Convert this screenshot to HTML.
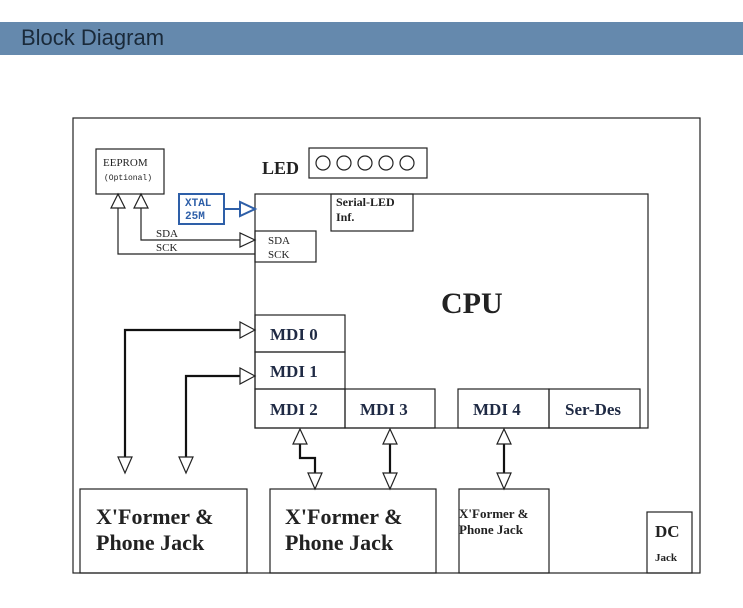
<!DOCTYPE html>
<html><head><meta charset="utf-8"><style>
body{margin:0;background:#fff;width:743px;height:608px;overflow:hidden;}
.hdr{position:absolute;left:0;top:22px;width:743px;height:33px;background:#6589ad;}
.hdr span{position:absolute;left:21px;top:3px;font:300 22px "Liberation Sans",sans-serif;color:#1a2a3a;}
svg{position:absolute;left:0;top:0}
</style></head><body>
<div class="hdr"><span>Block Diagram</span></div>
<svg width="743" height="608" viewBox="0 0 743 608" font-family="Liberation Serif, serif">
<g fill="none" stroke="#222" stroke-width="1.2">
<rect x="73" y="118" width="627" height="455"/>
<rect x="96" y="149" width="68" height="45"/>
<rect x="309" y="148" width="118" height="30"/>
<circle cx="323" cy="163" r="7"/><circle cx="344" cy="163" r="7"/><circle cx="365" cy="163" r="7"/><circle cx="386" cy="163" r="7"/><circle cx="407" cy="163" r="7"/>
<rect x="255" y="194" width="393" height="234"/>
<rect x="331" y="194" width="82" height="37"/>
<rect x="255" y="231" width="61" height="31"/>
<rect x="255" y="315" width="90" height="37"/>
<rect x="255" y="352" width="90" height="37"/>
<rect x="255" y="389" width="90" height="39"/>
<rect x="345" y="389" width="90" height="39"/>
<rect x="458" y="389" width="91" height="39"/>
<rect x="549" y="389" width="91" height="39"/>
<rect x="80" y="489" width="167" height="84"/>
<rect x="270" y="489" width="166" height="84"/>
<rect x="459" y="489" width="90" height="84"/>
<rect x="647" y="512" width="45" height="61"/>
<polyline points="141,208 141,240 240,240"/>
<polyline points="118,208 118,254 255,254"/>
</g>
<g fill="#fff" stroke="#222" stroke-width="1.2">
<polygon points="111,208 125,208 118,194"/>
<polygon points="134,208 148,208 141,194"/>
<polygon points="240,233 240,247 255,240"/>
</g>
<rect x="179" y="194" width="45" height="30" fill="none" stroke="#2e5fa8" stroke-width="2"/>
<line x1="224" y1="209" x2="240" y2="209" stroke="#2e5fa8" stroke-width="2"/>
<polygon points="240,202 240,216 255,209" fill="#fff" stroke="#2e5fa8" stroke-width="2"/>
<g fill="none" stroke="#111" stroke-width="2.2">
<polyline points="125,457 125,330 240,330"/>
<polyline points="186,457 186,376 240,376"/>
<polyline points="300,444 300,458 315,458 315,473"/>
<line x1="390" y1="444" x2="390" y2="473"/>
<line x1="504" y1="444" x2="504" y2="473"/>
</g>
<g fill="#fff" stroke="#222" stroke-width="1.2">
<polygon points="240,322 240,338 255,330"/>
<polygon points="240,368 240,384 255,376"/>
<polygon points="118,457 132,457 125,473"/>
<polygon points="179,457 193,457 186,473"/>
<polygon points="293,444 307,444 300,429"/>
<polygon points="308,473 322,473 315,489"/>
<polygon points="383,444 397,444 390,429"/>
<polygon points="383,473 397,473 390,489"/>
<polygon points="497,444 511,444 504,429"/>
<polygon points="497,473 511,473 504,489"/>
</g>
<g fill="#222">
<text x="103" y="166" font-size="11">EEPROM</text>
<text x="104" y="180" font-size="8" font-family="Liberation Mono, monospace">(Optional)</text>
<text x="262" y="174" font-size="18" font-weight="bold">LED</text>
<text x="336" y="206" font-size="12" font-weight="bold">Serial-LED</text>
<text x="336" y="221" font-size="12" font-weight="bold">Inf.</text>
<text x="268" y="244" font-size="11">SDA</text>
<text x="268" y="258" font-size="11">SCK</text>
<text x="156" y="237" font-size="11">SDA</text>
<text x="156" y="251" font-size="11">SCK</text>
<text x="441" y="313" font-size="30" font-weight="bold">CPU</text>
<g fill="#1f2a44" font-size="17" font-weight="bold">
<text x="270" y="340">MDI 0</text>
<text x="270" y="377">MDI 1</text>
<text x="270" y="415">MDI 2</text>
<text x="360" y="415">MDI 3</text>
<text x="473" y="415">MDI 4</text>
<text x="565" y="415">Ser-Des</text>
</g>
<text x="96" y="524" font-size="22" font-weight="bold">X'Former &amp;</text>
<text x="96" y="550" font-size="22" font-weight="bold">Phone Jack</text>
<text x="285" y="524" font-size="22" font-weight="bold">X'Former &amp;</text>
<text x="285" y="550" font-size="22" font-weight="bold">Phone Jack</text>
<text x="459" y="518" font-size="13" font-weight="bold">X'Former &amp;</text>
<text x="459" y="534" font-size="13" font-weight="bold">Phone Jack</text>
<text x="655" y="537" font-size="17" font-weight="bold">DC</text>
<text x="655" y="561" font-size="11" font-weight="bold">Jack</text>
</g>
<g fill="#2e5fa8" font-size="11" font-weight="bold" font-family="Liberation Mono, monospace">
<text x="185" y="206">XTAL</text>
<text x="185" y="219">25M</text>
</g>
</svg>
</body></html>
